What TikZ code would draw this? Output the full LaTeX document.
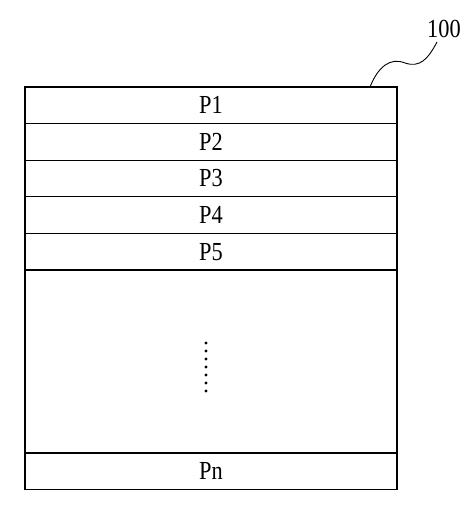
\documentclass[tikz,border=0pt]{standalone}
\usepackage{fontspec}
\setmainfont{Liberation Serif}
\usepackage{graphicx}
\newcommand{\lbltext}[1]{\scalebox{0.86}[1]{\fontsize{26}{26}\selectfont #1}}
\tikzset{
  layer/.style={draw, line width=1.1pt, rectangle, inner sep=0pt, outer sep=0pt,
    minimum width=372pt, minimum height=36.6pt, anchor=north west},
  dotmark/.style={fill, circle, inner sep=0pt, minimum size=3.2pt},
  leader/.style={line width=0.9pt},
}
\begin{document}
\begin{tikzpicture}[x=1pt,y=1pt]
\useasboundingbox (0,0) rectangle (474,519);
\node[layer] (p1) at (25,432) {\lbltext{P1}};
\node[layer] (p2) at (p1.south west) {\lbltext{P2}};
\node[layer] (p3) at (p2.south west) {\lbltext{P3}};
\node[layer] (p4) at (p3.south west) {\lbltext{P4}};
\node[layer] (p5) at (p4.south west) {\lbltext{P5}};
\node[layer, minimum height=183pt] (gap) at (p5.south west) {};
\node[layer] (pn) at (gap.south west) {\lbltext{Pn}};
\foreach \i in {0,...,6} {
  \node[dotmark] (d\i) at (206, 176-\i*8) {};
}
\node (lbl) at (444,490) {\lbltext{100}};
\coordinate (ls) at (370,432);
\coordinate (le) at (437,477);
\draw[leader] (ls) .. controls (378,452) and (390,462) .. (405,456)
  .. controls (420,451) and (428,460) .. (le);
\end{tikzpicture}
\end{document}
